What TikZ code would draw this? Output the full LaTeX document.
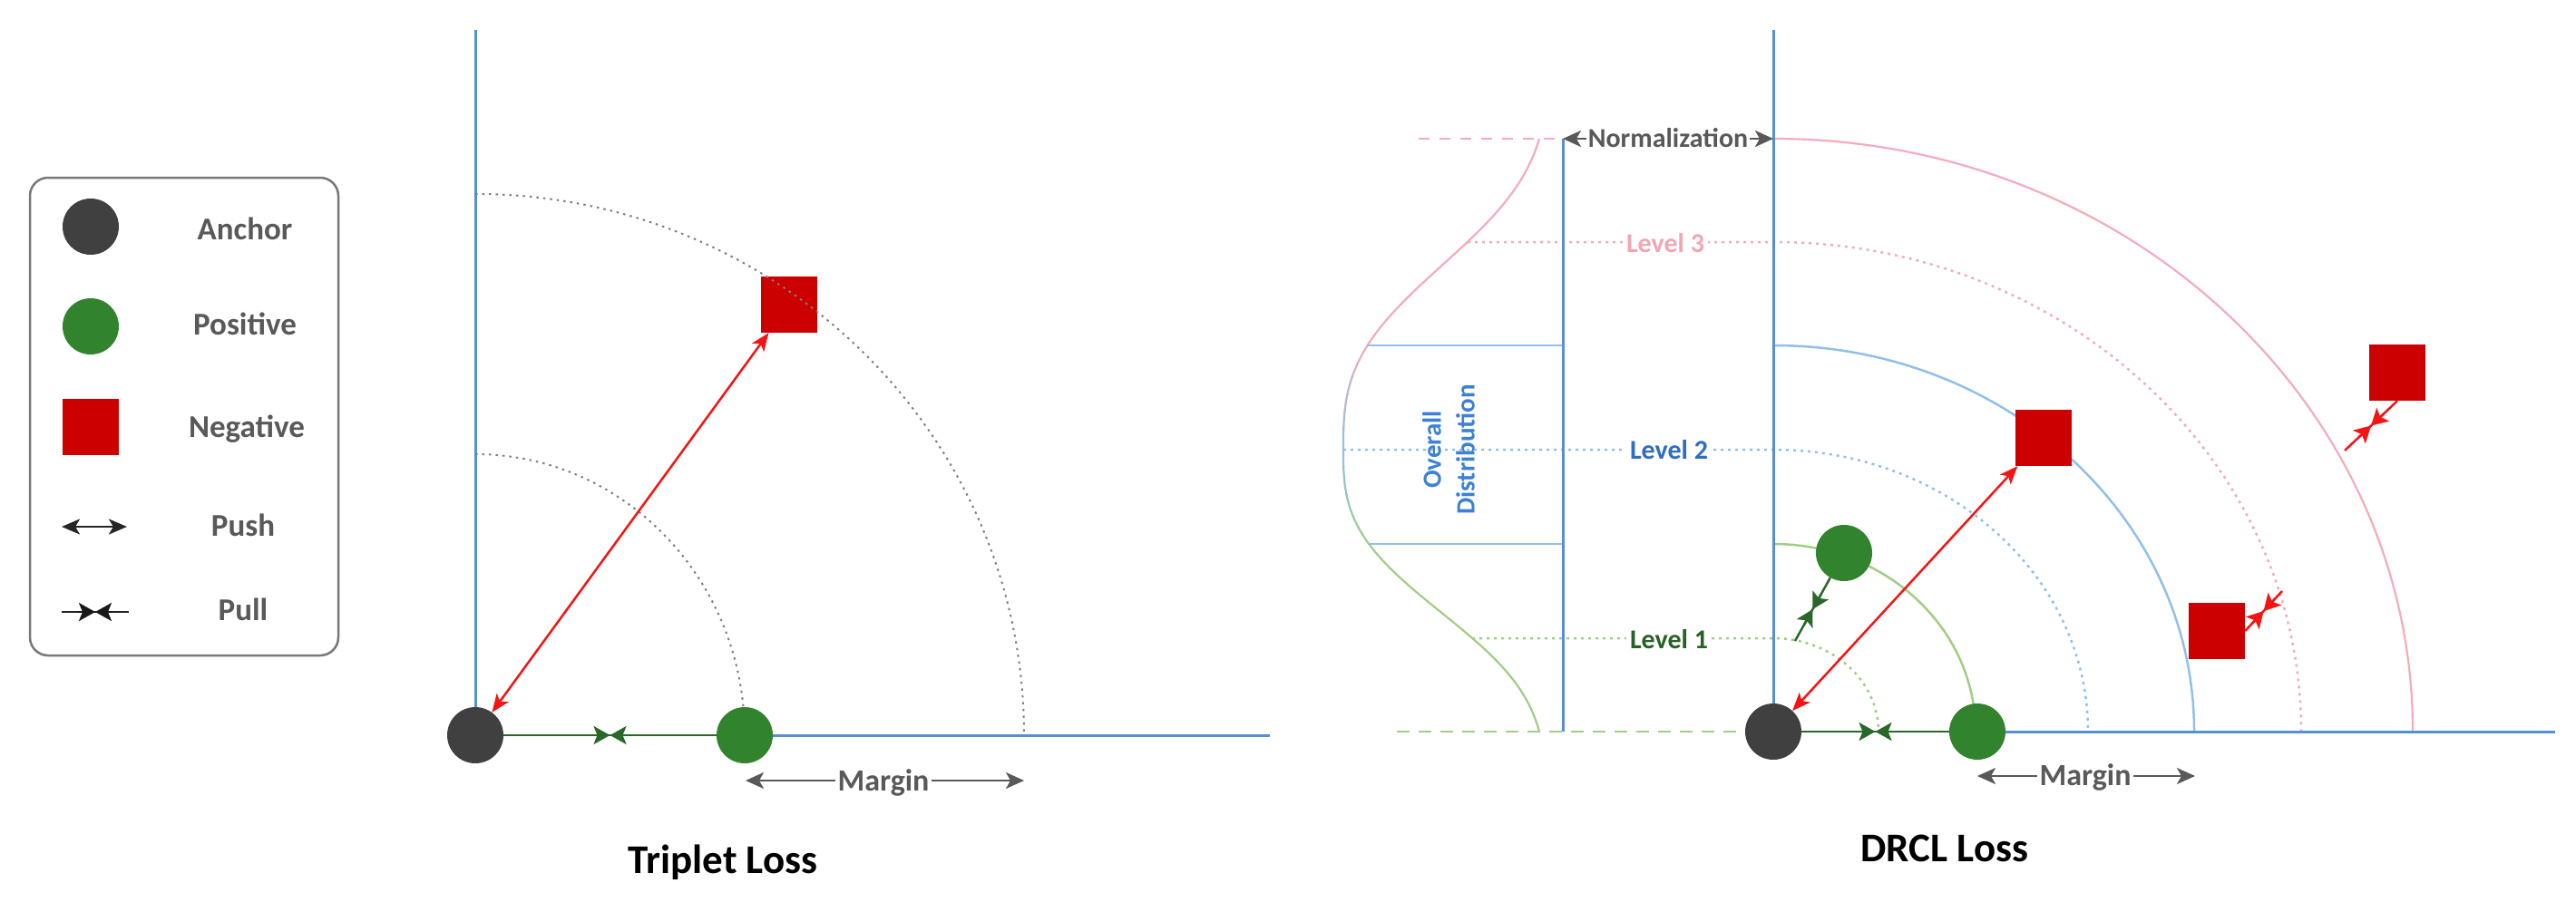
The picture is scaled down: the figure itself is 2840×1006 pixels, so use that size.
\documentclass[tikz,border=0pt]{standalone}
\usepackage{fontspec}
\setmainfont{Carlito}
\usetikzlibrary{arrows.meta,calc}
\definecolor{axisblue}{RGB}{86,142,215}
\definecolor{lblue}{RGB}{145,192,235}
\definecolor{lpink}{RGB}{244,172,187}
\definecolor{lgreen}{RGB}{160,206,135}
\definecolor{dgreen}{RGB}{42,104,42}
\definecolor{posgreen}{RGB}{50,131,45}
\definecolor{ancgray}{RGB}{64,64,64}
\definecolor{negred}{RGB}{204,0,0}
\definecolor{arrred}{RGB}{245,20,20}
\definecolor{txtgray}{RGB}{89,89,89}
\definecolor{lvlblue}{RGB}{46,110,196}
\definecolor{odblue}{RGB}{60,128,215}
\definecolor{lvlgreen}{RGB}{38,98,38}
\definecolor{lvlpink}{RGB}{241,166,178}
\definecolor{boxgray}{RGB}{120,120,120}
\newcommand{\pullmarker}[3]{%
  \path (#1) -- (#2) coordinate[pos=0.5] (pmid);
  \draw[#3,line width=2.5pt,-{Stealth[length=18pt,width=20pt,inset=4pt]}] ($(pmid)!19pt!(#1)$) -- (pmid);
  \draw[#3,line width=2.5pt,-{Stealth[length=18pt,width=20pt,inset=4pt]}] ($(pmid)!19pt!(#2)$) -- (pmid);
}
\def\bellcurve{plot[domain=-153:-496,samples=70,variable=\t] ({1697-216*(exp(-1*pow((abs(\t+496)+0.001)/236,2.9))-0.052)/0.948},\t) -- plot[domain=-496:-807,samples=70,variable=\t] ({1697-216*(exp(-1*pow((abs(\t+496)+0.001)/208,2.9))-0.0404)/0.9596},\t)}
\begin{document}
\begin{tikzpicture}[x=1pt,y=1pt,
  anchorpt/.style={circle,fill=ancgray,minimum size=62pt,inner sep=0pt},
  pospt/.style={circle,fill=posgreen,minimum size=62pt,inner sep=0pt},
  negpt/.style={rectangle,fill=negred,minimum size=62pt,inner sep=0pt},
  axisline/.style={axisblue,line width=3pt},
  pullline/.style={dgreen,line width=2.5pt},
  redpull/.style={arrred,line width=2.5pt},
  pusharrow/.style={arrred,line width=2.5pt,{Stealth[length=20pt,width=16pt,inset=5pt]}-{Stealth[length=20pt,width=16pt,inset=5pt]}},
  grayarrow/.style={txtgray,line width=2.5pt,{Stealth[length=20pt,width=18pt,inset=5pt]}-{Stealth[length=20pt,width=18pt,inset=5pt]}},
  graydot/.style={gray,line width=2pt,dash pattern=on 2.5pt off 5pt},
  lvldot/.style={line width=2.5pt,dash pattern=on 3pt off 5pt},
  legtext/.style={anchor=base,text=txtgray,font=\fontsize{35}{42}\selectfont\bfseries},
  margtext/.style={anchor=base,fill=white,inner xsep=3pt,inner ysep=2pt,text=txtgray,font=\fontsize{34}{40}\selectfont\bfseries},
  lvltext/.style={anchor=base,fill=white,inner xsep=4pt,inner ysep=3pt,font=\fontsize{30}{36}\selectfont\bfseries},
  titletext/.style={anchor=base,text=black,font=\fontsize{45}{54}\selectfont\bfseries}
]
\useasboundingbox (0,0) rectangle (2840,-1006);

% ---------------- Legend ----------------
\draw[boxgray,line width=2.5pt,rounded corners=20pt] (33,-196) rectangle (373,-723);
\node[anchorpt] (la) at (100,-250) {};
\node[pospt] (lpos) at (100,-360) {};
\node[negpt] (lneg) at (100,-471) {};
\coordinate (lpu1) at (68,-581);
\coordinate (lpu2) at (140,-581);
\draw[black!85,line width=2.5pt,{Stealth[length=20pt,width=17pt,inset=5pt]}-{Stealth[length=20pt,width=17pt,inset=5pt]}] (lpu1) -- (lpu2);
\coordinate (lpl1) at (68,-675);
\coordinate (lpl2) at (142,-675);
\draw[black!85,line width=2.5pt] (lpl1) -- (lpl2);
\pullmarker{lpl1}{lpl2}{black!90}
\node[legtext] (tanc) at (270,-264) {Anchor};
\node[legtext] (tpos) at (270,-369) {Positive};
\node[legtext] (tneg) at (272,-482) {Negative};
\node[legtext] (tpush) at (268,-591) {Push};
\node[legtext] (tpull) at (268,-684) {Pull};

% ---------------- Triplet loss ----------------
\draw[axisline] (524,-33) -- (524,-811);
\draw[axisline] (821,-811) -- (1400,-811);
\draw[graydot] (524,-501) arc[start angle=90,end angle=0,x radius=297pt,y radius=310pt];
\node[anchorpt] (ta) at (524,-811) {};
\node[pospt] (tp) at (821,-811) {};
\node[negpt] (tn) at (870,-336) {};
\draw[graydot] (524,-214) arc[start angle=90,end angle=0,x radius=605pt,y radius=597pt];
\draw[pullline] (ta) -- (tp);
\pullmarker{ta}{tp}{dgreen}
\draw[pusharrow] (ta) -- (tn);
\coordinate (tm1) at (822,-861);
\coordinate (tm2) at (1129,-861);
\draw[grayarrow] (tm1) -- (tm2);
\node[margtext] (tmt) at (974,-872) {Margin};
\node[titletext] (ttitle) at (797,-963) {Triplet Loss};

% ---------------- DRCL loss ----------------
% distribution curve
\begin{scope}
  \clip (1440,-140) rectangle (1730,-379.5);
  \draw[lpink,line width=2.2pt] \bellcurve -- (1697,-807);
\end{scope}
\foreach \i in {0,...,11}{%
  \pgfmathsetmacro\ya{-379-\i*18.42}
  \pgfmathsetmacro\yb{-379-(\i+1)*18.42-0.4}
  \ifnum\i<6
    \pgfmathtruncatemacro\pp{(\i+0.5)/6*100}
    \def\cc{lblue!\pp!lpink}
  \else
    \pgfmathtruncatemacro\pp{(\i-5.5)/6*100}
    \def\cc{lgreen!\pp!lblue}
  \fi
  \begin{scope}
    \clip (1440,\ya) rectangle (1730,\yb);
    \draw[line width=2.2pt,color=\cc] \bellcurve;
  \end{scope}
}
\begin{scope}
  \clip (1440,-600) rectangle (1730,-820);
  \draw[lgreen,line width=2.2pt] \bellcurve -- (1697,-807);
\end{scope}
% horizontal boundary lines on the left
\draw[lblue,line width=2pt] (1507,-381) -- (1723,-381);
\draw[lblue,line width=2pt] (1509,-600) -- (1723,-600);
% dashed lines
\draw[lpink,line width=2pt,dash pattern=on 12pt off 11pt] (1564,-153) -- (1723,-153);
\draw[lgreen,line width=2.5pt,dash pattern=on 14pt off 10pt] (1540,-807) -- (1955,-807);
% level lines and arcs
\draw[lpink,lvldot] (1618,-267) -- (1955,-267) arc[start angle=90,end angle=0,x radius=582pt,y radius=540pt];
\draw[lblue,lvldot] (1481,-496) -- (1955,-496) arc[start angle=90,end angle=0,x radius=347pt,y radius=311pt];
\draw[lgreen,lvldot] (1623,-704) -- (1955,-704) arc[start angle=90,end angle=0,x radius=116pt,y radius=103pt];
\draw[lpink,line width=2.2pt] (1955,-153) arc[start angle=90,end angle=0,x radius=705pt,y radius=654pt];
\draw[lblue,line width=2.5pt] (1955,-381) arc[start angle=90,end angle=0,x radius=464pt,y radius=426pt];
\draw[lgreen,line width=2.5pt] (1955,-600) arc[start angle=90,end angle=0,x radius=223pt,y radius=207pt];
% axes
\draw[axisline] (1723,-153) -- (1723,-807);
\draw[axisline] (1955,-33) -- (1955,-807);
\draw[axisline] (2180,-807) -- (2817,-807);
% labels
\node[lvltext,text=lvlpink] (lv3) at (1836,-278) {Level 3};
\node[lvltext,text=lvlblue] (lv2) at (1840,-506) {Level 2};
\node[lvltext,text=lvlgreen] (lv1) at (1840,-715) {Level 1};
\node[rotate=90,align=center,text=odblue,font=\fontsize{29}{37}\selectfont\bfseries] (od) at (1597,-496) {Overall\\Distribution};
% normalization
\coordinate (nm1) at (1723,-153);
\coordinate (nm2) at (1955,-153);
\draw[grayarrow] (nm1) -- (nm2);
\node[anchor=base,fill=white,inner xsep=2pt,inner ysep=2pt,text=txtgray,font=\fontsize{30}{36}\selectfont\bfseries] (nmt) at (1839,-163) {Normalization};
% points
\node[anchorpt] (da) at (1955,-807) {};
\node[pospt] (dp1) at (2180,-807) {};
\node[pospt] (dp2) at (2033,-610) {};
\node[negpt] (dn1) at (2253,-483) {};
\node[negpt] (dn2) at (2444,-696) {};
\node[negpt] (dn3) at (2643,-411) {};
% connectors
\draw[pullline] (da) -- (dp1);
\pullmarker{da}{dp1}{dgreen}
\coordinate (l1p) at (1979,-707);
\draw[pullline] (dp2) -- (l1p);
\pullmarker{dp2}{l1p}{dgreen}
\draw[pusharrow] (da) -- (dn1);
\coordinate (l3p) at (2516,-652);
\draw[redpull] (dn2.east) -- (l3p);
\pullmarker{dn2.east}{l3p}{arrred}
\coordinate (l4p) at (2585,-497);
\draw[redpull] (dn3.south) -- (l4p);
\pullmarker{dn3.south}{l4p}{arrred}
% margin
\coordinate (dm1) at (2180,-856);
\coordinate (dm2) at (2420,-856);
\draw[grayarrow] (dm1) -- (dm2);
\node[margtext] (dmt) at (2299,-866) {Margin};
\node[titletext] (dtitle) at (2144,-950) {DRCL Loss};
\end{tikzpicture}
\end{document}
